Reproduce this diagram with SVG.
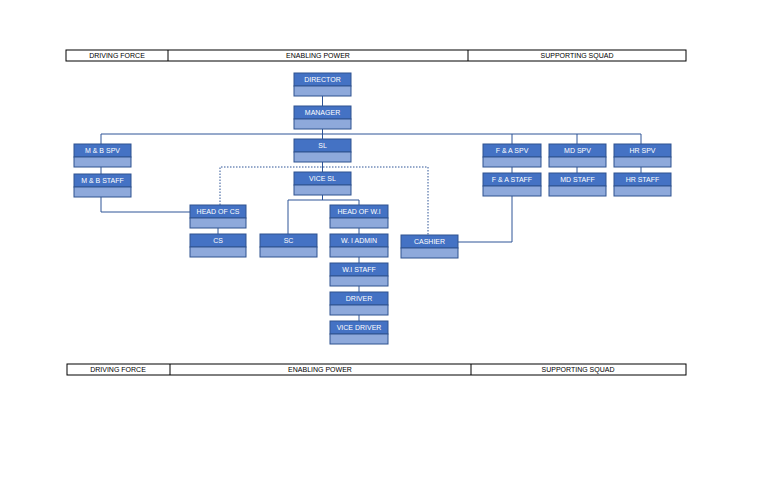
<svg xmlns="http://www.w3.org/2000/svg" width="768" height="492" viewBox="0 0 768 492">
<style>
.t{fill:#4472C4;stroke:#2F528F;stroke-width:1}
.b{fill:#8EA9DB;stroke:#2F528F;stroke-width:1}
.l{font-family:"Liberation Sans",Arial,sans-serif;font-size:7px;fill:#fff;text-anchor:middle}
.h{font-family:"Liberation Sans",Arial,sans-serif;font-size:7px;fill:#000;text-anchor:middle}
.c{fill:none;stroke:#2F5597;stroke-width:1}
.d{fill:none;stroke:#2F5597;stroke-width:1;stroke-dasharray:1.5,1.5}
.bar{fill:#fff;stroke:#000;stroke-width:1}
</style>
<rect width="768" height="492" fill="#fff"/>
<g id="header-top">
<rect class="bar" x="66" y="50" width="620" height="11"/>
<line x1="168" y1="50" x2="168" y2="61" stroke="#000"/>
<line x1="468" y1="50" x2="468" y2="61" stroke="#000"/>
<text class="h" x="117" y="58">DRIVING FORCE</text>
<text class="h" x="318" y="58">ENABLING POWER</text>
<text class="h" x="577" y="58">SUPPORTING SQUAD</text>
</g>
<g id="header-bottom">
<rect class="bar" x="67" y="364" width="619" height="11"/>
<line x1="170" y1="364" x2="170" y2="375" stroke="#000"/>
<line x1="471" y1="364" x2="471" y2="375" stroke="#000"/>
<text class="h" x="118" y="372">DRIVING FORCE</text>
<text class="h" x="320" y="372">ENABLING POWER</text>
<text class="h" x="578" y="372">SUPPORTING SQUAD</text>
</g>
<g id="connectors">
<path class="c" d="M322.5 96V106M322.5 129V139M101 144V134H641V144M512 134V144M577 134V144M322.5 162V172M101 167V174M512 167V173M577 167V173M641 167V173"/>
<path class="c" d="M101 197V212H190M218 228V234M322.5 195V200M288 200H359M288 200V234M359 200V205M359 228V234M359 257V263M359 286V292M359 315V321M512 196V242H458"/>
<path class="d" d="M220 205V167H428V235"/>
</g>
<g id="director"><rect class="t" x="294" y="73" width="57" height="13"/><rect class="b" x="294" y="86" width="57" height="10"/><text class="l" x="322.5" y="82">DIRECTOR</text></g>
<g id="manager"><rect class="t" x="294" y="106" width="57" height="13"/><rect class="b" x="294" y="119" width="57" height="10"/><text class="l" x="322.5" y="115">MANAGER</text></g>
<g id="sl"><rect class="t" x="294" y="139" width="57" height="13"/><rect class="b" x="294" y="152" width="57" height="10"/><text class="l" x="322.5" y="148">SL</text></g>
<g id="vice-sl"><rect class="t" x="294" y="172" width="57" height="13"/><rect class="b" x="294" y="185" width="57" height="10"/><text class="l" x="322.5" y="181">VICE SL</text></g>
<g id="mb-spv"><rect class="t" x="74" y="144" width="57" height="13"/><rect class="b" x="74" y="157" width="57" height="10"/><text class="l" x="102.5" y="153">M &amp; B SPV</text></g>
<g id="mb-staff"><rect class="t" x="74" y="174" width="57" height="13"/><rect class="b" x="74" y="187" width="57" height="10"/><text class="l" x="102.5" y="183">M &amp; B STAFF</text></g>
<g id="head-cs"><rect class="t" x="190" y="205" width="56" height="13"/><rect class="b" x="190" y="218" width="56" height="10"/><text class="l" x="218" y="214">HEAD OF CS</text></g>
<g id="cs"><rect class="t" x="190" y="234" width="56" height="13"/><rect class="b" x="190" y="247" width="56" height="10"/><text class="l" x="218" y="243">CS</text></g>
<g id="sc"><rect class="t" x="260" y="234" width="57" height="13"/><rect class="b" x="260" y="247" width="57" height="10"/><text class="l" x="288.5" y="243">SC</text></g>
<g id="head-wi"><rect class="t" x="330" y="205" width="58" height="13"/><rect class="b" x="330" y="218" width="58" height="10"/><text class="l" x="359" y="214">HEAD OF W.I</text></g>
<g id="wi-admin"><rect class="t" x="330" y="234" width="58" height="13"/><rect class="b" x="330" y="247" width="58" height="10"/><text class="l" x="359" y="243">W. I ADMIN</text></g>
<g id="wi-staff"><rect class="t" x="330" y="263" width="58" height="13"/><rect class="b" x="330" y="276" width="58" height="10"/><text class="l" x="359" y="272">W.I STAFF</text></g>
<g id="driver"><rect class="t" x="330" y="292" width="58" height="13"/><rect class="b" x="330" y="305" width="58" height="10"/><text class="l" x="359" y="301">DRIVER</text></g>
<g id="vice-driver"><rect class="t" x="330" y="321" width="58" height="13"/><rect class="b" x="330" y="334" width="58" height="10"/><text class="l" x="359" y="330">VICE DRIVER</text></g>
<g id="cashier"><rect class="t" x="401" y="235" width="57" height="13"/><rect class="b" x="401" y="248" width="57" height="10"/><text class="l" x="429.5" y="244">CASHIER</text></g>
<g id="fa-spv"><rect class="t" x="483" y="144" width="58" height="13"/><rect class="b" x="483" y="157" width="58" height="10"/><text class="l" x="512" y="153">F &amp; A SPV</text></g>
<g id="fa-staff"><rect class="t" x="483" y="173" width="58" height="13"/><rect class="b" x="483" y="186" width="58" height="10"/><text class="l" x="512" y="182">F &amp; A STAFF</text></g>
<g id="md-spv"><rect class="t" x="549" y="144" width="57" height="13"/><rect class="b" x="549" y="157" width="57" height="10"/><text class="l" x="577.5" y="153">MD SPV</text></g>
<g id="md-staff"><rect class="t" x="549" y="173" width="57" height="13"/><rect class="b" x="549" y="186" width="57" height="10"/><text class="l" x="577.5" y="182">MD STAFF</text></g>
<g id="hr-spv"><rect class="t" x="614" y="144" width="57" height="13"/><rect class="b" x="614" y="157" width="57" height="10"/><text class="l" x="642.5" y="153">HR SPV</text></g>
<g id="hr-staff"><rect class="t" x="614" y="173" width="57" height="13"/><rect class="b" x="614" y="186" width="57" height="10"/><text class="l" x="642.5" y="182">HR STAFF</text></g>
</svg>
